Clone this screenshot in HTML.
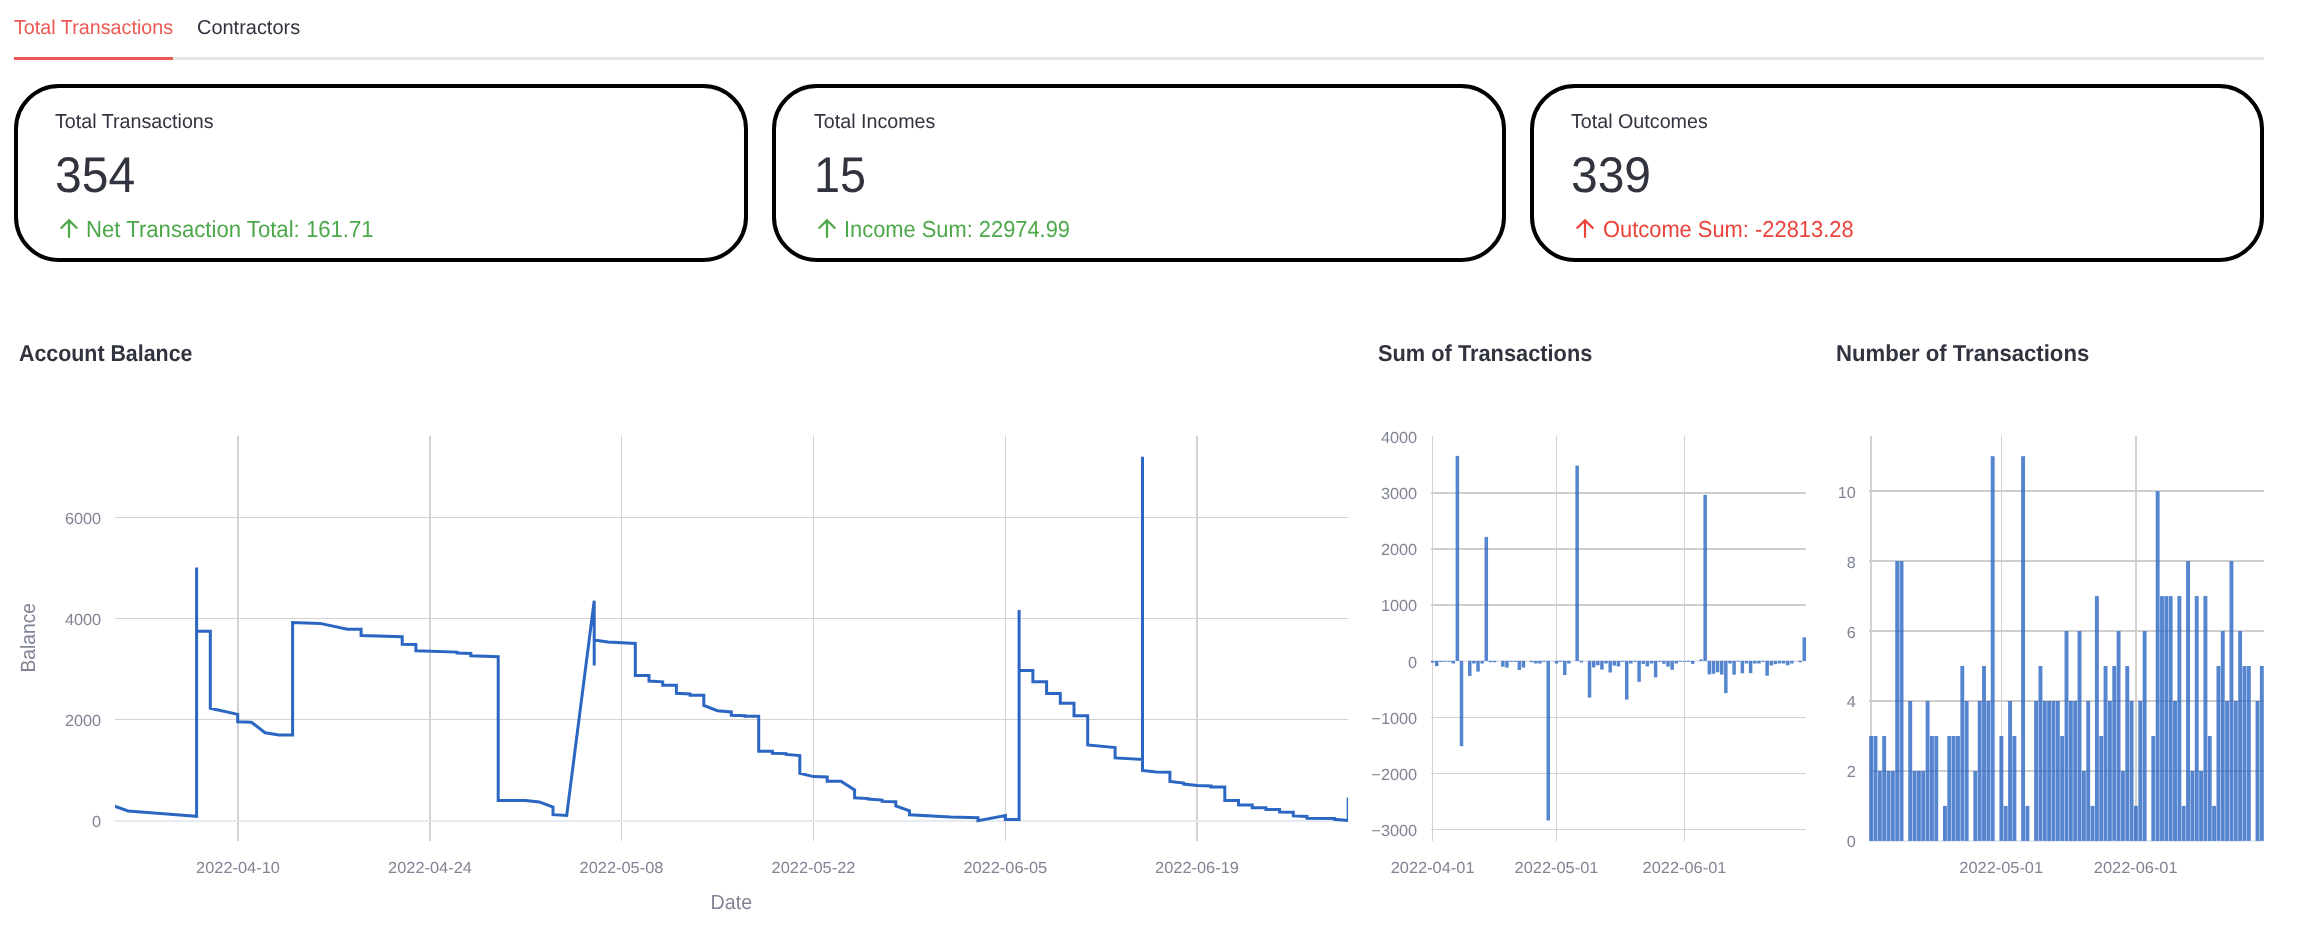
<!DOCTYPE html>
<html lang="en"><head><meta charset="utf-8"><title>Dashboard</title>
<style>
html,body{margin:0;padding:0;background:#fff;}
body{text-rendering:geometricPrecision;width:2299px;height:939px;position:relative;overflow:hidden;font-family:"Liberation Sans",sans-serif;color:#31333e;}
.abs{position:absolute;white-space:nowrap;line-height:1;will-change:transform;}
.sx{display:inline-block;transform-origin:0 50%;white-space:nowrap;}
.tabline{position:absolute;left:14px;top:57px;width:2250px;height:3px;background:#e6e6e6;}
.tabsel{position:absolute;left:14px;top:57px;width:159px;height:3px;background:#ec5a53;}
.card{position:absolute;top:84px;width:734px;height:178px;box-sizing:border-box;border:4.5px solid #000;border-radius:45px;background:#fff;}
.lbl{font-size:20.2px;color:#31333e;}
.val{font-size:50px;color:#31333e;}
.dl{font-size:23.2px;}
.h{font-size:23px;font-weight:bold;color:#31333e;}
svg{position:absolute;left:0;top:0;will-change:transform;}
svg text{font-family:"Liberation Sans",sans-serif;fill:#818494;text-rendering:geometricPrecision;}
</style></head><body>
<div class="tabline"></div><div class="tabsel"></div>
<div class="card" style="left:14px"></div>
<div class="card" style="left:772px"></div>
<div class="card" style="left:1530px"></div>
<svg width="2299" height="939" viewBox="0 0 2299 939">
<defs><clipPath id="c1"><rect x="115" y="436" width="1233" height="405"/></clipPath><clipPath id="c2"><rect x="1431" y="436" width="375.5" height="405"/></clipPath><clipPath id="c3"><rect x="1869" y="436" width="395.5" height="405"/></clipPath></defs>
<g shape-rendering="crispEdges">
<rect x="237" y="436" width="2" height="405" fill="#d2d2d2"/>
<rect x="429" y="436" width="2" height="405" fill="#d2d2d2"/>
<rect x="621" y="436" width="1" height="405" fill="#d2d2d2"/>
<rect x="813" y="436" width="1" height="405" fill="#d2d2d2"/>
<rect x="1005" y="436" width="1" height="405" fill="#d2d2d2"/>
<rect x="1196" y="436" width="2" height="405" fill="#d2d2d2"/>
<rect x="115" y="517" width="1233" height="1" fill="#d2d2d2"/>
<rect x="115" y="618" width="1233" height="1" fill="#d2d2d2"/>
<rect x="115" y="719" width="1233" height="1" fill="#d2d2d2"/>
<rect x="115" y="820" width="1233" height="2" fill="#e7eaf0"/>
</g>
<path d="M114.3,806.2 L128.1,811.0 L182.9,815.3 L196.6,816.3 L196.6,567.6 L196.6,631.2 L210.3,631.2 L210.3,708.3 L237.7,714.4 L237.7,721.8 L251.4,722.2 L265.1,732.8 L278.9,735.0 L292.6,735.0 L292.6,622.6 L320.0,623.4 L347.4,629.3 L361.1,629.3 L361.1,635.5 L402.2,636.8 L402.2,644.3 L415.9,644.5 L415.9,650.8 L457.1,652.1 L457.1,653.1 L470.8,653.4 L470.8,655.7 L498.2,656.7 L498.2,800.4 L525.6,800.4 L539.3,801.9 L553.0,807.0 L553.0,814.7 L566.7,815.5 L594.2,600.7 L594.2,665.4 L594.2,640.0 L607.9,642.1 L635.3,643.4 L635.3,675.4 L649.0,675.4 L649.0,681.0 L662.7,681.8 L662.7,685.3 L676.4,685.3 L676.4,693.3 L690.1,694.0 L690.1,695.3 L703.8,695.3 L703.8,705.5 L717.5,710.7 L731.3,711.9 L731.3,715.3 L745.0,715.8 L745.0,716.3 L758.7,716.3 L758.7,751.3 L772.4,751.3 L772.4,753.3 L786.1,753.6 L786.1,754.4 L799.8,755.6 L799.8,773.3 L813.5,776.6 L827.2,776.9 L827.2,781.2 L840.9,781.2 L854.6,789.9 L854.6,797.8 L868.3,798.6 L868.3,799.1 L882.1,800.1 L882.1,801.4 L895.8,801.7 L895.8,806.0 L909.5,810.8 L909.5,814.8 L950.6,817.0 L978.0,817.8 L978.0,820.6 L1005.4,815.5 L1005.4,819.6 L1019.1,819.6 L1019.1,609.9 L1019.1,670.5 L1032.9,670.5 L1032.9,681.8 L1046.6,681.8 L1046.6,693.5 L1060.3,693.5 L1060.3,703.2 L1074.0,703.2 L1074.0,715.8 L1087.7,715.8 L1087.7,744.9 L1115.1,747.5 L1115.1,757.9 L1142.5,759.5 L1142.5,456.8 L1142.5,770.5 L1156.2,772.0 L1169.9,772.3 L1169.9,781.5 L1183.7,783.0 L1183.7,784.1 L1197.4,785.6 L1211.1,785.9 L1211.1,787.0 L1224.8,787.0 L1224.8,800.5 L1238.5,800.5 L1238.5,804.9 L1252.2,804.9 L1252.2,807.7 L1265.9,807.7 L1265.9,809.4 L1279.6,809.6 L1279.6,812.0 L1293.3,812.2 L1293.3,815.9 L1307.0,816.4 L1307.0,818.2 L1334.5,818.5 L1334.5,819.3 L1348.2,820.4 L1348.2,797.4" fill="none" stroke="#2b66c2" stroke-width="3" stroke-linejoin="miter" clip-path="url(#c1)"/>
<text x="101.2" y="524" font-size="16" text-anchor="end" textLength="36.30" lengthAdjust="spacingAndGlyphs">6000</text>
<text x="101.2" y="625" font-size="16" text-anchor="end" textLength="36.30" lengthAdjust="spacingAndGlyphs">4000</text>
<text x="101.2" y="726" font-size="16" text-anchor="end" textLength="36.30" lengthAdjust="spacingAndGlyphs">2000</text>
<text x="101.2" y="827" font-size="16" text-anchor="end" textLength="9.07" lengthAdjust="spacingAndGlyphs">0</text>
<text x="238" y="873.2" font-size="16" text-anchor="middle" textLength="83.79" lengthAdjust="spacingAndGlyphs">2022-04-10</text>
<text x="430" y="873.2" font-size="16" text-anchor="middle" textLength="83.79" lengthAdjust="spacingAndGlyphs">2022-04-24</text>
<text x="621.5" y="873.2" font-size="16" text-anchor="middle" textLength="83.79" lengthAdjust="spacingAndGlyphs">2022-05-08</text>
<text x="813.5" y="873.2" font-size="16" text-anchor="middle" textLength="83.79" lengthAdjust="spacingAndGlyphs">2022-05-22</text>
<text x="1005.3" y="873.2" font-size="16" text-anchor="middle" textLength="83.79" lengthAdjust="spacingAndGlyphs">2022-06-05</text>
<text x="1197" y="873.2" font-size="16" text-anchor="middle" textLength="83.79" lengthAdjust="spacingAndGlyphs">2022-06-19</text>
<text x="731.4" y="908.9" font-size="20.5" text-anchor="middle" textLength="41.6" lengthAdjust="spacingAndGlyphs">Date</text>
<text transform="translate(34.6,637.8) rotate(-90)" font-size="20.5" text-anchor="middle" textLength="69.6" lengthAdjust="spacingAndGlyphs">Balance</text>
<g shape-rendering="crispEdges">
<rect x="1432" y="436" width="1" height="405" fill="#d2d2d2"/>
<rect x="1556" y="436" width="1" height="405" fill="#d2d2d2"/>
<rect x="1684" y="436" width="1" height="405" fill="#d2d2d2"/>
<rect x="1431" y="492" width="375" height="2" fill="#cfcfcf"/>
<rect x="1431" y="548" width="375" height="2" fill="#cfcfcf"/>
<rect x="1431" y="604" width="375" height="2" fill="#cfcfcf"/>
<rect x="1431" y="717" width="375" height="1" fill="#d2d2d2"/>
<rect x="1431" y="773" width="375" height="1" fill="#d2d2d2"/>
<rect x="1431" y="829" width="375" height="1" fill="#d2d2d2"/>
<rect x="1431" y="660" width="375" height="2" fill="#e7eaf0"/>
</g>
<g fill="#2b66c2" fill-opacity="0.8" clip-path="url(#c2)">
<rect x="1430.85" y="660.9" width="3.5" height="1.7"/>
<rect x="1434.98" y="660.9" width="3.5" height="5.2"/>
<rect x="1439.11" y="660.9" width="3.5" height="1.0"/>
<rect x="1443.24" y="660.9" width="3.5" height="0.8"/>
<rect x="1447.37" y="660.9" width="3.5" height="0.8"/>
<rect x="1451.50" y="660.9" width="3.5" height="2.6"/>
<rect x="1455.63" y="455.9" width="3.5" height="205.0"/>
<rect x="1459.76" y="660.9" width="3.5" height="85.3"/>
<rect x="1468.02" y="660.9" width="3.5" height="15.0"/>
<rect x="1472.15" y="660.9" width="3.5" height="2.6"/>
<rect x="1476.28" y="660.9" width="3.5" height="10.7"/>
<rect x="1480.41" y="660.9" width="3.5" height="2.6"/>
<rect x="1484.54" y="536.9" width="3.5" height="124.0"/>
<rect x="1488.67" y="660.9" width="3.5" height="1.3"/>
<rect x="1492.80" y="660.9" width="3.5" height="1.3"/>
<rect x="1501.06" y="660.9" width="3.5" height="5.8"/>
<rect x="1505.19" y="660.9" width="3.5" height="6.7"/>
<rect x="1509.32" y="660.9" width="3.5" height="0.9"/>
<rect x="1513.45" y="660.9" width="3.5" height="0.9"/>
<rect x="1517.58" y="660.9" width="3.5" height="9.1"/>
<rect x="1521.71" y="660.9" width="3.5" height="6.7"/>
<rect x="1529.97" y="660.9" width="3.5" height="1.3"/>
<rect x="1534.10" y="660.9" width="3.5" height="2.6"/>
<rect x="1538.23" y="660.9" width="3.5" height="2.6"/>
<rect x="1542.36" y="660.9" width="3.5" height="0.9"/>
<rect x="1546.49" y="660.9" width="3.5" height="159.6"/>
<rect x="1554.75" y="660.9" width="3.5" height="2.6"/>
<rect x="1558.88" y="660.9" width="3.5" height="0.9"/>
<rect x="1563.01" y="660.9" width="3.5" height="14.1"/>
<rect x="1567.14" y="660.9" width="3.5" height="2.6"/>
<rect x="1575.40" y="465.6" width="3.5" height="195.3"/>
<rect x="1579.53" y="660.9" width="3.5" height="1.5"/>
<rect x="1587.79" y="660.9" width="3.5" height="36.7"/>
<rect x="1591.92" y="660.9" width="3.5" height="6.5"/>
<rect x="1596.05" y="660.9" width="3.5" height="4.3"/>
<rect x="1600.18" y="660.9" width="3.5" height="8.7"/>
<rect x="1604.31" y="660.9" width="3.5" height="2.6"/>
<rect x="1608.44" y="660.9" width="3.5" height="11.6"/>
<rect x="1612.57" y="660.9" width="3.5" height="4.7"/>
<rect x="1616.70" y="660.9" width="3.5" height="5.5"/>
<rect x="1620.83" y="660.9" width="3.5" height="0.9"/>
<rect x="1624.96" y="660.9" width="3.5" height="38.7"/>
<rect x="1629.09" y="660.9" width="3.5" height="2.6"/>
<rect x="1633.22" y="660.9" width="3.5" height="0.9"/>
<rect x="1637.35" y="660.9" width="3.5" height="20.9"/>
<rect x="1641.48" y="660.9" width="3.5" height="3.0"/>
<rect x="1645.61" y="660.9" width="3.5" height="5.5"/>
<rect x="1649.74" y="660.9" width="3.5" height="2.6"/>
<rect x="1653.87" y="660.9" width="3.5" height="16.5"/>
<rect x="1658.00" y="660.9" width="3.5" height="0.9"/>
<rect x="1662.13" y="660.9" width="3.5" height="2.9"/>
<rect x="1666.26" y="660.9" width="3.5" height="5.7"/>
<rect x="1670.39" y="660.9" width="3.5" height="8.9"/>
<rect x="1674.52" y="660.9" width="3.5" height="2.6"/>
<rect x="1678.65" y="660.9" width="3.5" height="0.9"/>
<rect x="1682.78" y="660.9" width="3.5" height="0.9"/>
<rect x="1686.91" y="660.9" width="3.5" height="0.9"/>
<rect x="1691.04" y="660.9" width="3.5" height="3.0"/>
<rect x="1699.30" y="659.4" width="3.5" height="1.5"/>
<rect x="1703.43" y="494.9" width="3.5" height="166.0"/>
<rect x="1707.56" y="660.9" width="3.5" height="13.5"/>
<rect x="1711.69" y="660.9" width="3.5" height="12.9"/>
<rect x="1715.82" y="660.9" width="3.5" height="11.3"/>
<rect x="1719.95" y="660.9" width="3.5" height="13.7"/>
<rect x="1724.08" y="660.9" width="3.5" height="32.2"/>
<rect x="1728.21" y="660.9" width="3.5" height="2.6"/>
<rect x="1732.34" y="660.9" width="3.5" height="13.7"/>
<rect x="1736.47" y="660.9" width="3.5" height="0.7"/>
<rect x="1740.60" y="660.9" width="3.5" height="12.4"/>
<rect x="1744.73" y="660.9" width="3.5" height="2.6"/>
<rect x="1748.86" y="660.9" width="3.5" height="12.2"/>
<rect x="1752.99" y="660.9" width="3.5" height="2.6"/>
<rect x="1757.12" y="660.9" width="3.5" height="2.6"/>
<rect x="1761.25" y="660.9" width="3.5" height="0.9"/>
<rect x="1765.38" y="660.9" width="3.5" height="14.8"/>
<rect x="1769.51" y="660.9" width="3.5" height="4.6"/>
<rect x="1773.64" y="660.9" width="3.5" height="3.3"/>
<rect x="1777.77" y="660.9" width="3.5" height="2.6"/>
<rect x="1781.90" y="660.9" width="3.5" height="2.6"/>
<rect x="1786.03" y="660.9" width="3.5" height="4.3"/>
<rect x="1790.16" y="660.9" width="3.5" height="2.6"/>
<rect x="1798.42" y="660.9" width="3.5" height="1.3"/>
<rect x="1802.55" y="637.4" width="3.5" height="23.5"/>
</g>
<text x="1417.2" y="442.8" font-size="16" text-anchor="end" textLength="36.30" lengthAdjust="spacingAndGlyphs">4000</text>
<text x="1417.2" y="499.0" font-size="16" text-anchor="end" textLength="36.30" lengthAdjust="spacingAndGlyphs">3000</text>
<text x="1417.2" y="555.2" font-size="16" text-anchor="end" textLength="36.30" lengthAdjust="spacingAndGlyphs">2000</text>
<text x="1417.2" y="611.3" font-size="16" text-anchor="end" textLength="36.30" lengthAdjust="spacingAndGlyphs">1000</text>
<text x="1417.2" y="667.5" font-size="16" text-anchor="end" textLength="9.07" lengthAdjust="spacingAndGlyphs">0</text>
<text x="1417.2" y="723.7" font-size="16" text-anchor="end" textLength="45.83" lengthAdjust="spacingAndGlyphs">−1000</text>
<text x="1417.2" y="779.9" font-size="16" text-anchor="end" textLength="45.83" lengthAdjust="spacingAndGlyphs">−2000</text>
<text x="1417.2" y="836.0" font-size="16" text-anchor="end" textLength="45.83" lengthAdjust="spacingAndGlyphs">−3000</text>
<text x="1432.6" y="873.2" font-size="16" text-anchor="middle" textLength="83.79" lengthAdjust="spacingAndGlyphs">2022-04-01</text>
<text x="1556.5" y="873.2" font-size="16" text-anchor="middle" textLength="83.79" lengthAdjust="spacingAndGlyphs">2022-05-01</text>
<text x="1684.5" y="873.2" font-size="16" text-anchor="middle" textLength="83.79" lengthAdjust="spacingAndGlyphs">2022-06-01</text>
<g shape-rendering="crispEdges">
<rect x="1870" y="436" width="2" height="405" fill="#d2d2d2"/>
<rect x="2001" y="436" width="1" height="405" fill="#d2d2d2"/>
<rect x="2135" y="436" width="2" height="405" fill="#d2d2d2"/>
<rect x="1869" y="770" width="395" height="2" fill="#cfcfcf"/>
<rect x="1869" y="700" width="395" height="2" fill="#cfcfcf"/>
<rect x="1869" y="630" width="395" height="2" fill="#cfcfcf"/>
<rect x="1869" y="560" width="395" height="2" fill="#cfcfcf"/>
<rect x="1869" y="490" width="395" height="2" fill="#cfcfcf"/>
<rect x="1869" y="840" width="395" height="2" fill="#e7eaf0"/>
</g>
<g fill="#2b66c2" fill-opacity="0.8" clip-path="url(#c3)">
<rect x="1869.20" y="736.0" width="3.9" height="104.9"/>
<rect x="1873.54" y="736.0" width="3.9" height="104.9"/>
<rect x="1877.88" y="771.0" width="3.9" height="69.9"/>
<rect x="1882.22" y="736.0" width="3.9" height="104.9"/>
<rect x="1886.56" y="771.0" width="3.9" height="69.9"/>
<rect x="1890.90" y="771.0" width="3.9" height="69.9"/>
<rect x="1895.25" y="561.1" width="3.9" height="279.8"/>
<rect x="1899.59" y="561.1" width="3.9" height="279.8"/>
<rect x="1908.27" y="701.0" width="3.9" height="139.9"/>
<rect x="1912.61" y="771.0" width="3.9" height="69.9"/>
<rect x="1916.95" y="771.0" width="3.9" height="69.9"/>
<rect x="1921.29" y="771.0" width="3.9" height="69.9"/>
<rect x="1925.63" y="701.0" width="3.9" height="139.9"/>
<rect x="1929.97" y="736.0" width="3.9" height="104.9"/>
<rect x="1934.32" y="736.0" width="3.9" height="104.9"/>
<rect x="1943.00" y="805.9" width="3.9" height="35.0"/>
<rect x="1947.34" y="736.0" width="3.9" height="104.9"/>
<rect x="1951.68" y="736.0" width="3.9" height="104.9"/>
<rect x="1956.02" y="736.0" width="3.9" height="104.9"/>
<rect x="1960.36" y="666.0" width="3.9" height="174.8"/>
<rect x="1964.70" y="701.0" width="3.9" height="139.9"/>
<rect x="1973.38" y="771.0" width="3.9" height="69.9"/>
<rect x="1977.73" y="701.0" width="3.9" height="139.9"/>
<rect x="1982.07" y="666.0" width="3.9" height="174.8"/>
<rect x="1986.41" y="701.0" width="3.9" height="139.9"/>
<rect x="1990.75" y="456.2" width="3.9" height="384.7"/>
<rect x="1999.43" y="736.0" width="3.9" height="104.9"/>
<rect x="2003.77" y="805.9" width="3.9" height="35.0"/>
<rect x="2008.11" y="701.0" width="3.9" height="139.9"/>
<rect x="2012.45" y="736.0" width="3.9" height="104.9"/>
<rect x="2021.13" y="456.2" width="3.9" height="384.7"/>
<rect x="2025.48" y="805.9" width="3.9" height="35.0"/>
<rect x="2034.16" y="701.0" width="3.9" height="139.9"/>
<rect x="2038.50" y="666.0" width="3.9" height="174.8"/>
<rect x="2042.84" y="701.0" width="3.9" height="139.9"/>
<rect x="2047.18" y="701.0" width="3.9" height="139.9"/>
<rect x="2051.52" y="701.0" width="3.9" height="139.9"/>
<rect x="2055.86" y="701.0" width="3.9" height="139.9"/>
<rect x="2060.20" y="736.0" width="3.9" height="104.9"/>
<rect x="2064.55" y="631.1" width="3.9" height="209.8"/>
<rect x="2068.89" y="701.0" width="3.9" height="139.9"/>
<rect x="2073.23" y="701.0" width="3.9" height="139.9"/>
<rect x="2077.57" y="631.1" width="3.9" height="209.8"/>
<rect x="2081.91" y="771.0" width="3.9" height="69.9"/>
<rect x="2086.25" y="701.0" width="3.9" height="139.9"/>
<rect x="2090.59" y="805.9" width="3.9" height="35.0"/>
<rect x="2094.93" y="596.1" width="3.9" height="244.8"/>
<rect x="2099.27" y="736.0" width="3.9" height="104.9"/>
<rect x="2103.61" y="666.0" width="3.9" height="174.8"/>
<rect x="2107.95" y="701.0" width="3.9" height="139.9"/>
<rect x="2112.30" y="666.0" width="3.9" height="174.8"/>
<rect x="2116.64" y="631.1" width="3.9" height="209.8"/>
<rect x="2120.98" y="771.0" width="3.9" height="69.9"/>
<rect x="2125.32" y="666.0" width="3.9" height="174.8"/>
<rect x="2129.66" y="701.0" width="3.9" height="139.9"/>
<rect x="2134.00" y="805.9" width="3.9" height="35.0"/>
<rect x="2138.34" y="701.0" width="3.9" height="139.9"/>
<rect x="2142.68" y="631.1" width="3.9" height="209.8"/>
<rect x="2151.37" y="736.0" width="3.9" height="104.9"/>
<rect x="2155.71" y="491.2" width="3.9" height="349.7"/>
<rect x="2160.05" y="596.1" width="3.9" height="244.8"/>
<rect x="2164.39" y="596.1" width="3.9" height="244.8"/>
<rect x="2168.73" y="596.1" width="3.9" height="244.8"/>
<rect x="2173.07" y="701.0" width="3.9" height="139.9"/>
<rect x="2177.41" y="596.1" width="3.9" height="244.8"/>
<rect x="2181.75" y="805.9" width="3.9" height="35.0"/>
<rect x="2186.09" y="561.1" width="3.9" height="279.8"/>
<rect x="2190.43" y="771.0" width="3.9" height="69.9"/>
<rect x="2194.78" y="596.1" width="3.9" height="244.8"/>
<rect x="2199.12" y="771.0" width="3.9" height="69.9"/>
<rect x="2203.46" y="596.1" width="3.9" height="244.8"/>
<rect x="2207.80" y="736.0" width="3.9" height="104.9"/>
<rect x="2212.14" y="805.9" width="3.9" height="35.0"/>
<rect x="2216.48" y="666.0" width="3.9" height="174.8"/>
<rect x="2220.82" y="631.1" width="3.9" height="209.8"/>
<rect x="2225.16" y="701.0" width="3.9" height="139.9"/>
<rect x="2229.50" y="561.1" width="3.9" height="279.8"/>
<rect x="2233.84" y="701.0" width="3.9" height="139.9"/>
<rect x="2238.18" y="631.1" width="3.9" height="209.8"/>
<rect x="2242.53" y="666.0" width="3.9" height="174.8"/>
<rect x="2246.87" y="666.0" width="3.9" height="174.8"/>
<rect x="2255.55" y="701.0" width="3.9" height="139.9"/>
<rect x="2259.89" y="666.0" width="3.9" height="174.8"/>
</g>
<text x="1855.8" y="847.0" font-size="16" text-anchor="end" textLength="9.07" lengthAdjust="spacingAndGlyphs">0</text>
<text x="1855.8" y="777.2" font-size="16" text-anchor="end" textLength="9.07" lengthAdjust="spacingAndGlyphs">2</text>
<text x="1855.8" y="707.4" font-size="16" text-anchor="end" textLength="9.07" lengthAdjust="spacingAndGlyphs">4</text>
<text x="1855.8" y="637.6" font-size="16" text-anchor="end" textLength="9.07" lengthAdjust="spacingAndGlyphs">6</text>
<text x="1855.8" y="567.8" font-size="16" text-anchor="end" textLength="9.07" lengthAdjust="spacingAndGlyphs">8</text>
<text x="1855.8" y="498.0" font-size="16" text-anchor="end" textLength="18.15" lengthAdjust="spacingAndGlyphs">10</text>
<text x="2001.2" y="873.2" font-size="16" text-anchor="middle" textLength="83.79" lengthAdjust="spacingAndGlyphs">2022-05-01</text>
<text x="2135.7" y="873.2" font-size="16" text-anchor="middle" textLength="83.79" lengthAdjust="spacingAndGlyphs">2022-06-01</text>
<path d="M69.0,237.8V220.2M60.7,228.5L69.0,220.4L77.3,228.5" fill="none" stroke="#4da84a" stroke-width="2.2"/>
<path d="M827.0,237.8V220.2M818.7,228.5L827.0,220.4L835.3,228.5" fill="none" stroke="#4da84a" stroke-width="2.2"/>
<path d="M1585.0,237.8V220.2M1576.7,228.5L1585.0,220.4L1593.3,228.5" fill="none" stroke="#eb4339" stroke-width="2.2"/>
</svg>
<div class="abs lbl" id="t0" style="left:13.91px;top:18px;color:#ec5a53;"><span class="sx" style="transform:scaleX(0.9780)">Total Transactions</span></div>
<div class="abs lbl" id="t1" style="left:197.31px;top:18px;color:#31333e;"><span class="sx" style="transform:scaleX(0.9883)">Contractors</span></div>
<div class="abs lbl" id="t2" style="left:55.41px;top:112px;color:#31333e;"><span class="sx" style="transform:scaleX(0.9749)">Total Transactions</span></div>
<div class="abs val" id="t3" style="left:54.70px;top:150px;color:#31333e;"><span class="sx" style="transform:scaleX(0.9614)">354</span></div>
<div class="abs dl" id="t4" style="left:85.79px;top:218px;color:#4da84a;"><span class="sx" style="transform:scaleX(0.9549)">Net Transaction Total: 161.71</span></div>
<div class="abs lbl" id="t5" style="left:813.61px;top:112px;color:#31333e;"><span class="sx" style="transform:scaleX(0.9739)">Total Incomes</span></div>
<div class="abs val" id="t6" style="left:814.08px;top:150px;color:#31333e;"><span class="sx" style="transform:scaleX(0.9353)">15</span></div>
<div class="abs dl" id="t7" style="left:843.62px;top:218px;color:#4da84a;"><span class="sx" style="transform:scaleX(0.9426)">Income Sum: 22974.99</span></div>
<div class="abs lbl" id="t8" style="left:1571.21px;top:112px;color:#31333e;"><span class="sx" style="transform:scaleX(0.9753)">Total Outcomes</span></div>
<div class="abs val" id="t9" style="left:1570.80px;top:150px;color:#31333e;"><span class="sx" style="transform:scaleX(0.9595)">339</span></div>
<div class="abs dl" id="t10" style="left:1602.66px;top:218px;color:#eb4339;"><span class="sx" style="transform:scaleX(0.9437)">Outcome Sum: -22813.28</span></div>
<div class="abs h" id="t11" style="left:19.34px;top:342px;color:#31333e;"><span class="sx" style="transform:scaleX(0.9293)">Account Balance</span></div>
<div class="abs h" id="t12" style="left:1378.33px;top:342px;color:#31333e;"><span class="sx" style="transform:scaleX(0.9474)">Sum of Transactions</span></div>
<div class="abs h" id="t13" style="left:1835.76px;top:342px;color:#31333e;"><span class="sx" style="transform:scaleX(0.9617)">Number of Transactions</span></div>
</body></html>
